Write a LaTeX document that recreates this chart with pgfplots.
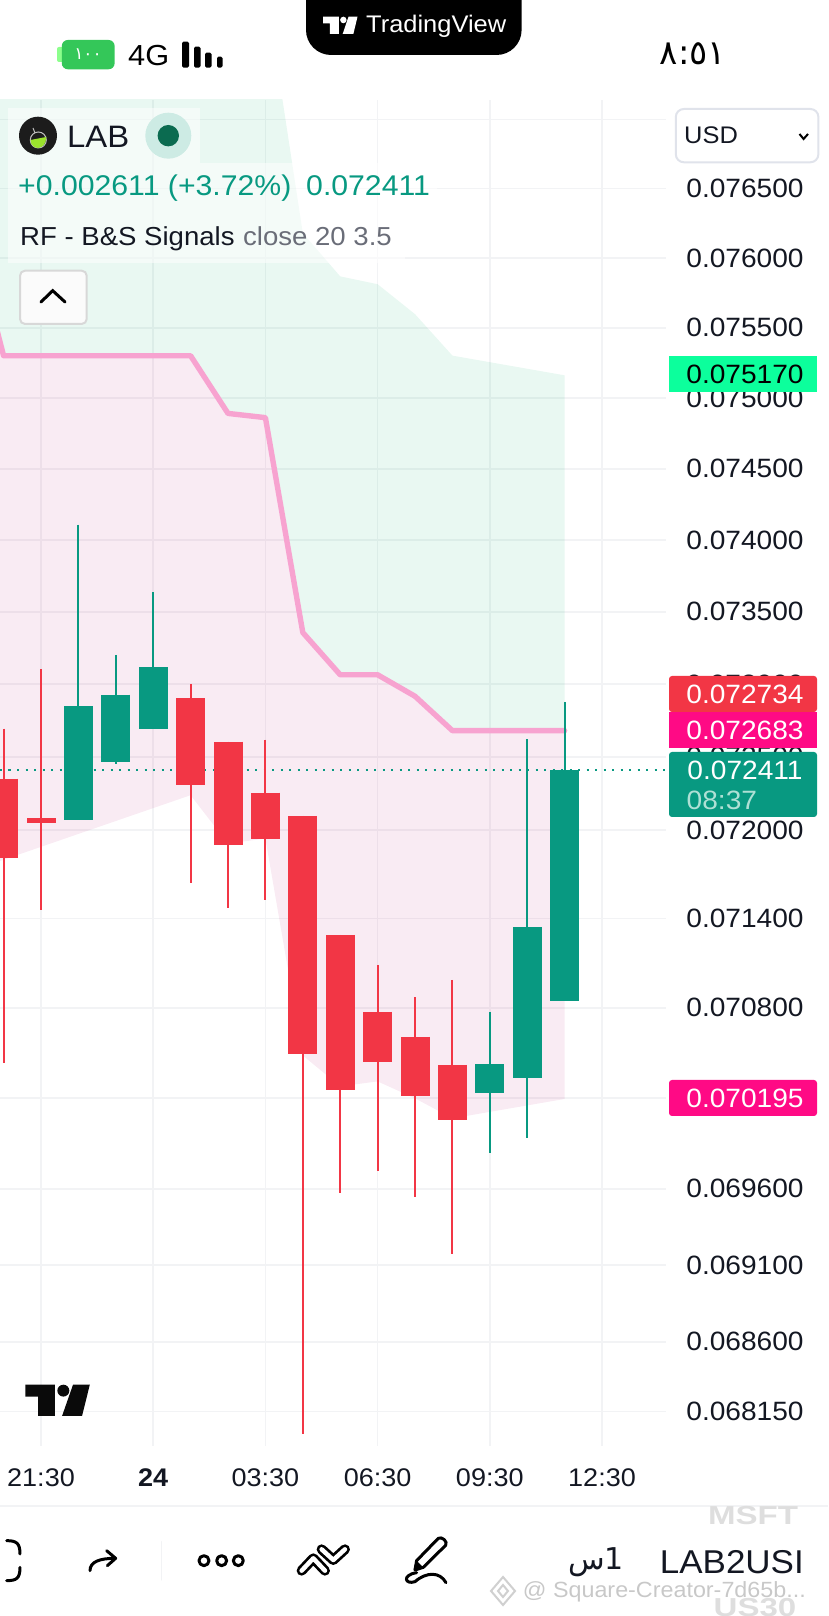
\documentclass[border=0pt]{standalone}
\usepackage{fontspec}
\usepackage{pgfplots}
\pgfplotsset{compat=1.18}
\setmainfont{Liberation Sans}[FakeStretch=1.06]
\newfontfamily\arabicfont[Script=Arabic]{DejaVu Sans}
\TeXXeTstate=1

\definecolor{ink}{HTML}{131722}
\definecolor{upc}{HTML}{089981}
\definecolor{downc}{HTML}{F23645}
\definecolor{gridc}{HTML}{F2F3F5}
\definecolor{filterc}{HTML}{F7A3D0}
\definecolor{pinktag}{HTML}{FF0A85}
\definecolor{limetag}{HTML}{0CFF9C}
\definecolor{pinkband}{RGB}{195,55,135}
\definecolor{greenband}{RGB}{35,185,125}
\definecolor{wmark}{RGB}{208,208,208}

\newcommand{\fs}[1]{\fontsize{#1}{#1}\selectfont}
\newcommand{\tvlogo}[5]{%
  \begin{scope}[shift={(#1,#2)},x=#3pt,y=-#4pt]
    \fill[#5] (0,0)--(.46,0)--(.46,1)--(.2,1)--(.2,.38)--(0,.38)--cycle;
    \fill[#5] (.59,.19) ellipse[x radius=.093,y radius=.19];
    \fill[#5] (.74,0)--(1,0)--(.88,1)--(.57,1)--cycle;
  \end{scope}}

\begin{document}
\begin{tikzpicture}
\path[use as bounding box] (0,0) rectangle (828pt,1616pt);

\begin{axis}[
  at={(0pt,170pt)}, anchor=south west,
  scale only axis, width=666pt, height=1346pt,
  % log price scale: data stay prices, axis runs in ln(price)
  % (ymode=log overflows with so narrow a range)
  y filter/.code={\pgfmathparse{ln(#1)}},
  xmin=-1.0963, xmax=16.711,
  ymin=-2.689307, ymax=-2.562098,
  axis line style={draw=none},
  major tick length=0pt,
  grid=major,
  major grid style={color=gridc, line width=1.7pt},
  xtick={0,3,6,9,12,15},
  xticklabels={21:30,\textbf{24},03:30,06:30,09:30,12:30},
  xticklabel style={anchor=center, yshift=-32pt, font=\fs{25.5}, text=ink},
  ytick={-2.56395,-2.570465,-2.577023,-2.583623,-2.590268,-2.596957,-2.603691,-2.610471,-2.617297,-2.62417,-2.63109,-2.639458,-2.647897,-2.656408,-2.664992,-2.6722,-2.679464,-2.686044},
  yticklabels={0.077000,0.076500,0.076000,0.075500,0.075000,0.074500,0.074000,0.073500,0.073000,0.072500,0.072000,0.071400,0.070800,0.070200,0.069600,0.069100,0.068600,0.068150},
  yticklabel pos=right,
  yticklabel style={anchor=center, xshift=79pt, font=\fs{26.5}, text=ink},
]
% upper band down to the filter line
\addplot[fill=greenband, fill opacity=.1, draw=none, forget plot] coordinates {
  (-2,0.077971) (6,0.077971) (7,0.076186) (8,0.075882) (9,0.075822) (10,0.075607)
  (11,0.075313) (14,0.07517) (14,0.072683) (13,0.072683) (12,0.072683) (11,0.072683)
  (10,0.072918) (9,0.073069) (8,0.073069) (7,0.073362) (6,0.074873) (5,0.074899)
  (4,0.075311) (-1,0.075311) (-2,0.076352)
} --cycle;
% filter line down to the lower band
\addplot[fill=pinkband, fill opacity=.1, draw=none, forget plot] coordinates {
  (-2,0.076352) (-1,0.075311) (4,0.075311) (5,0.074899) (6,0.074873) (7,0.073362)
  (8,0.073069) (9,0.073069) (10,0.072918) (11,0.072683) (14,0.072683) (14,0.070195)
  (11,0.070073) (10,0.070206) (9,0.070319) (8,0.070286) (7,0.070485) (6,0.071946)
  (5,0.071912) (4,0.072245) (-2,0.071722)
} --cycle;
% last price
\addplot[upc, line width=2pt, dash pattern=on 2pt off 6.5pt, forget plot] coordinates {(-1.0963,0.072411) (16.711,0.072411)};
% range filter
\addplot[filterc, line width=5.4pt, line join=round, line cap=round, forget plot] coordinates {
  (-2,0.076352) (-1,0.075311) (0,0.075311) (1,0.075311) (2,0.075311) (3,0.075311) (4,0.075311)
  (5,0.074899) (6,0.074873) (7,0.073362) (8,0.073069) (9,0.073069) (10,0.072918)
  (11,0.072683) (12,0.072683) (13,0.072683) (14,0.072683)
};
% red wicks
\addplot[downc, line width=2pt, unbounded coords=jump, forget plot] coordinates {
  (-1,0.072699) (-1,0.070440) (-1,nan)
  (0,0.073104) (0,0.071458) (0,nan)
  (4,0.073005) (4,0.071645) (4,nan)
  (5,0.072613) (5,0.071476) (5,nan)
  (6,0.072620) (6,0.071530) (6,nan)
  (7,0.072102) (7,0.068010) (7,nan)
  (8,0.071298) (8,0.069574) (8,nan)
  (9,0.071094) (9,0.069723) (9,nan)
  (10,0.070879) (10,0.069552) (10,nan)
  (11,0.070993) (11,0.069176)
};
% red bodies
\addplot[downc, line width=29pt, unbounded coords=jump, forget plot] coordinates {
  (-1,0.072355) (-1,0.071816) (-1,nan)
  (0,0.072091) (0,0.072056) (0,nan)
  (4,0.072909) (4,0.072314) (4,nan)
  (5,0.072613) (5,0.071898) (5,nan)
  (6,0.072259) (6,0.071948) (6,nan)
  (7,0.072102) (7,0.070494) (7,nan)
  (8,0.071298) (8,0.070259) (8,nan)
  (9,0.070781) (9,0.070445) (9,nan)
  (10,0.070614) (10,0.070219) (10,nan)
  (11,0.070421) (11,0.070055)
};
% green wicks
\addplot[upc, line width=2pt, unbounded coords=jump, forget plot] coordinates {
  (1,0.074113) (1,0.072073) (1,nan)
  (2,0.073208) (2,0.072453) (2,nan)
  (3,0.073647) (3,0.072697) (3,nan)
  (12,0.070774) (12,0.069840) (12,nan)
  (13,0.072627) (13,0.069939) (13,nan)
  (14,0.072888) (14,0.070846)
};
% green bodies
\addplot[upc, line width=29pt, unbounded coords=jump, forget plot] coordinates {
  (1,0.072860) (1,0.072073) (1,nan)
  (2,0.072933) (2,0.072464) (2,nan)
  (3,0.073116) (3,0.072697) (3,nan)
  (12,0.070430) (12,0.070235) (12,nan)
  (13,0.071354) (13,0.070334) (13,nan)
  (14,0.072411) (14,0.070846)
};
\end{axis}

% everything around the chart, in image pixels
\begin{scope}[shift={(0pt,1616pt)},x=1pt,y=-1pt]
  % status bar
  \fill[rounded corners=25pt] (306,-40) rectangle (521.6,55);
  \tvlogo{323}{16.7}{34.5}{17.3}{white}
  \node[text=white,anchor=west,inner sep=0pt] at (366,26) {\fs{24}TradingView};
  \fill[green!45!white,rounded corners=2pt] (57,47) rectangle (64,62);
  \fill[fill={rgb,255:red,52;green,199;blue,89},rounded corners=6pt] (61.8,40) rectangle (114.6,69.3);
  \node[text=white,inner sep=0pt] at (88,54.5) {\arabicfont\fs{17}١٠٠};
  \node[text=black,anchor=west,inner sep=0pt] at (128,56) {\fs{29}4G};
  \fill[black,rounded corners=1.5pt] (182,41.7) rectangle (189,67.7);
  \fill[black,rounded corners=1.5pt] (194,46.7) rectangle (200.5,67.7);
  \fill[black,rounded corners=1.5pt] (205,52.7) rectangle (211.5,67.7);
  \fill[black,rounded corners=1.5pt] (217,56.7) rectangle (222.5,67.7);
  \node[text=black,inner sep=0pt] at (693,54) {\arabicfont\fs{34}٨:٥١};

  % legend block
  \fill[white,opacity=.55] (8,108) rectangle (200,163);
  \fill[white,opacity=.55] (8,163) rectangle (437,212);
  \fill[white,opacity=.55] (8,212) rectangle (405,263);
  \fill[fill={rgb,255:red,28;green,28;blue,28}] (38,135.7) circle[radius=19pt];
  \draw[white!75!black,line width=1pt] (38.3,140) circle[radius=8pt];
  \draw[white!75!black,line width=1pt] (33,128) -- (35,133);
  \fill[fill={rgb,255:red,155;green,226;blue,45}] (30.5,140) .. controls (31,151) and (46,151) .. (46.3,137) -- cycle;
  \node[text=ink,anchor=base west,inner sep=0pt] at (67,147.5) {\fs{31}LAB};
  \fill[fill={rgb,255:red,205;green,235;blue,228}] (168.3,135.7) circle[radius=23pt];
  \fill[fill={rgb,255:red,11;green,107;blue,80}] (168.3,135.7) circle[radius=10.7pt];
  \node[text=upc,anchor=base west,inner sep=0pt] at (18,196) {\fs{28.5}+0.002611 (+3.72\%)};
  \node[text=upc,anchor=base west,inner sep=0pt] at (306,196) {\fs{28.5}0.072411};
  \node[text=ink,anchor=base west,inner sep=0pt] at (20,246) {\fs{26}RF - B\&S Signals};
  \node[text={rgb,255:red,106;green,109;blue,120},anchor=base west,inner sep=0pt] at (243,246) {\fs{26}close 20 3.5};
  \draw[fill={rgb,255:red,251;green,251;blue,251},draw={rgb,255:red,216;green,216;blue,216},line width=2pt,rounded corners=5pt] (20,270.7) rectangle (86.7,324);
  \draw[black,line width=3pt,line cap=round] (41,302) -- (52.7,290.7) -- (65,302);

  % currency button
  \draw[fill=white,draw={rgb,255:red,224;green,227;blue,235},line width=2pt,rounded corners=8pt] (675.8,109) rectangle (818.4,162.3);
  \node[text=ink,anchor=west,inner sep=0pt] at (684,135) {\fs{24}USD};
  \draw[black,line width=2pt] (799.5,134) -- (803.6,139) -- (808,134);

  % price tags
  \fill[limetag] (669,356) rectangle (817,391.7);
  \node[text=black,inner sep=0pt] at (745,374.5) {\fs{26.5}0.075170};
  \fill[downc,rounded corners=3pt] (669,676) rectangle (817,712);
  \node[text=white,inner sep=0pt] at (745,694) {\fs{26.5}0.072734};
  \fill[pinktag] (669,712) rectangle (817,748);
  \node[text=white,inner sep=0pt] at (745,730) {\fs{26.5}0.072683};
  \fill[upc,rounded corners=3pt] (669,752) rectangle (817,817);
  \node[text=white,inner sep=0pt] at (745,770) {\fs{26.5}0.072411};
  \node[text={rgb,255:red,174;green,224;blue,213},anchor=west,inner sep=0pt] at (686.5,800) {\fs{26.5}08:37};
  \fill[pinktag,rounded corners=3pt] (669,1080) rectangle (817,1116);
  \node[text=white,inner sep=0pt] at (745,1098.5) {\fs{26.5}0.070195};

  % big logo on the chart
  \tvlogo{25.3}{1384.7}{64.5}{31.3}{fill={rgb,255:red,10;green,10;blue,10}}

  % bottom toolbar
  \draw[gridc,line width=2pt] (0,1506) -- (828,1506);
  \node[text={rgb,255:red,222;green,222;blue,222},inner sep=0pt] at (753,1516) {\scalebox{1.2}[1]{\fs{26}\textbf{MSFT}}};
  \node[text=ink,anchor=east,inner sep=0pt] at (804,1562) {\fs{33}LAB2USI};
  \node[text=ink,inner sep=0pt] at (596,1562) {\arabicfont\fs{30}\beginR 1س\endR};
  \begin{scope}[shift={(0,1530)},x=.3333pt,y=-.3333pt,line width=3pt,line cap=round,line join=round]
    \draw (20,32) .. controls (50,32) and (60,40) .. (60,72);
    \draw (60,112) .. controls (60,145) and (50,152) .. (20,152);
    \draw (270,122) .. controls (270,95) and (300,85) .. (345,85);
    \draw (320,62) -- (347,85) -- (322,107);
    \draw[gridc,line width=1.5pt] (485,35) -- (485,150);
    \draw (612,92) circle[radius=15];
    \draw (665,92) circle[radius=15];
    \draw (715,92) circle[radius=15];
    \draw[line width=10pt] (905,122) -- (940,85) -- (975,122);
    \draw[white,line width=4.5pt] (905,122) -- (940,85) -- (975,122);
    \draw[line width=10pt] (965,58) -- (1000,90) -- (1035,58);
    \draw[white,line width=4.5pt] (965,58) -- (1000,90) -- (1035,58);
    \draw (1245,120) -- (1250,92) -- (1315,25) .. controls (1325,18) and (1345,35) .. (1337,46) -- (1270,112) -- cycle;
    \fill (1245,120) -- (1250,92) -- (1270,112) -- cycle;
    \draw (1250,128) .. controls (1205,135) and (1215,165) .. (1245,155) .. controls (1280,125) and (1320,125) .. (1338,158);
  \end{scope}

  % watermark
  \draw[wmark,line width=2pt] (503,1577) -- (515,1591) -- (503,1605) -- (491,1591) -- cycle;
  \draw[wmark,line width=2pt] (503,1585) -- (508,1591) -- (503,1597) -- (498,1591) -- cycle;
  \node[text={rgb,255:red,200;green,200;blue,200},anchor=west,inner sep=0pt] at (522.7,1592) {\fs{22}@ Square-Creator-7d65b...};
  \node[text={rgb,255:red,222;green,222;blue,222},inner sep=0pt] at (755,1608) {\scalebox{1.2}[1]{\fs{26}\textbf{US30}}};
\end{scope}
\end{tikzpicture}
\end{document}
